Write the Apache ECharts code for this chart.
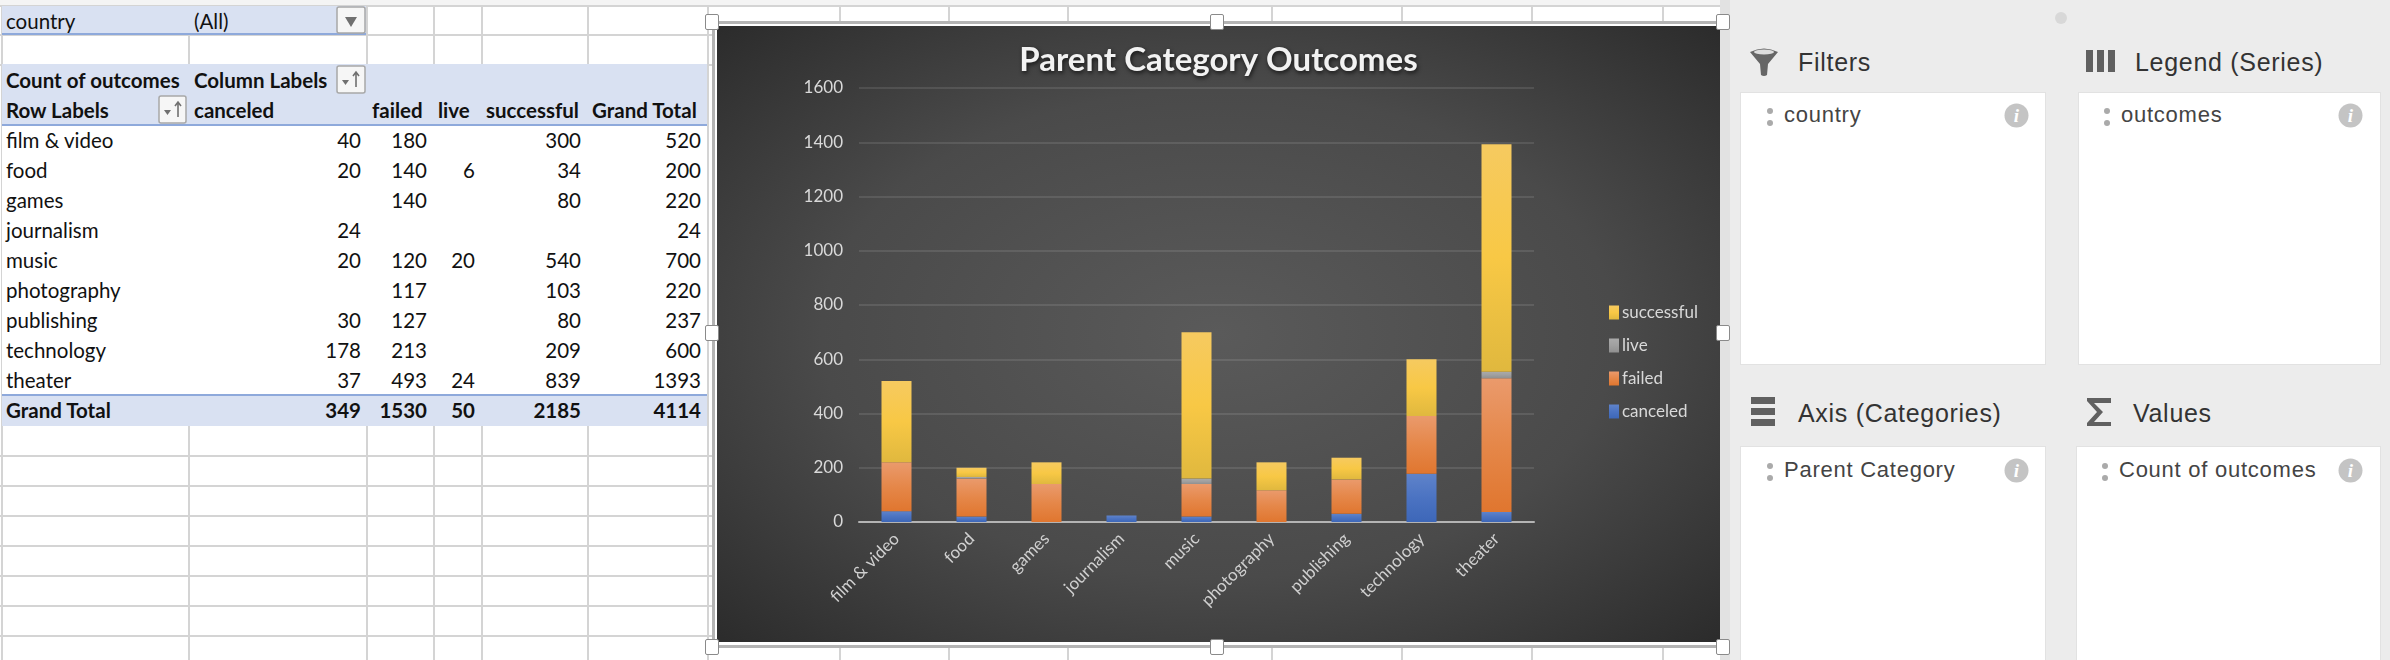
<!DOCTYPE html>
<html>
<head>
<meta charset="utf-8">
<title>Parent Category Outcomes</title>
<script src="https://cdn.jsdelivr.net/npm/echarts@6/dist/echarts.min.js"></script>
<style>
html, body { margin: 0; padding: 0; background: #fff; overflow: hidden; }
#sheet { position: absolute; left: 0; top: 0; width: 2390px; height: 660px; overflow: hidden; }
#sheet div, #sheet svg { position: absolute; }
.t { font-family: Lato, "Noto Sans", sans-serif; font-size: 20.5px; color: #111; white-space: nowrap; transform: translateY(calc(-50% - 1px)); }
.b { font-weight: 700; }
.r { transform: translate(-100%, calc(-50% - 1px)); }
.p { font-family: "Liberation Sans", sans-serif; color: #333; }
#main { position: absolute; left: 717px; top: 26px; width: 1003px; height: 616px;
  background: radial-gradient(ellipse 72% 72% at 50% 50%, #5a5a5a 0%, #4a4a4a 55%, #2a2a2a 100%); }
</style>
</head>
<body>
<div id="sheet"></div>
<div id="main"></div>
<script type="text/javascript">
var categories = ['film & video', 'food', 'games', 'journalism', 'music', 'photography', 'publishing', 'technology', 'theater'];
var canceled = [40, 20, null, 24, 20, null, 30, 178, 37];
var failed = [180, 140, 140, null, 120, 117, 127, 213, 493];
var live = [null, 6, null, null, 20, null, null, null, 24];
var successful = [300, 34, 80, null, 540, 103, 80, 209, 839];
var grandTotals = [520, 200, 220, 24, 700, 220, 237, 600, 1393];
var columnTotals = [349, 1530, 50, 2185, 4114];
var columnHeads = ['canceled', 'failed', 'live', 'successful', 'Grand Total'];
var yTicks = [0, 200, 400, 600, 800, 1000, 1200, 1400, 1600];

var sheet = document.getElementById('sheet');

function box(x, y, w, h, color, extra) {
    var d = document.createElement('div');
    d.style.cssText = 'left:' + x + 'px;top:' + y + 'px;width:' + w + 'px;height:' + h + 'px;background:' + color + ';' + (extra || '');
    sheet.appendChild(d);
    return d;
}
function text(x, y, s, cls, extra) {
    var d = document.createElement('div');
    d.className = 't ' + (cls || '');
    d.style.cssText = 'left:' + x + 'px;top:' + y + 'px;' + (extra || '');
    d.textContent = s;
    sheet.appendChild(d);
}
function svg(x, y, w, h, inner) {
    var d = document.createElement('div');
    d.style.cssText = 'left:' + x + 'px;top:' + y + 'px;width:' + w + 'px;height:' + h + 'px;';
    d.innerHTML = '<svg width="' + w + '" height="' + h + '" style="left:0;top:0">' + inner + '</svg>';
    sheet.appendChild(d);
}

// spreadsheet grid behind everything
var gridX = [1, 188, 366, 433, 481, 587, 707, 839, 948, 1067, 1271, 1401, 1531, 1662];
var gridY = [5, 34, 64, 455, 485, 515, 545, 575, 605, 635];
gridX.forEach(function (x) { box(x, 0, 2, 660, '#d4d4d4'); });
gridY.forEach(function (y) { box(0, y, 1730, 2, '#d4d4d4'); });
box(0, 0, 1730, 5, '#f4f4f4');

// pivot table
box(2, 6, 364, 28, '#d9e1f2');
box(2, 33, 364, 2, '#8ea9db');
box(2, 64, 705, 61, '#d9e1f2');
box(2, 124, 705, 2, '#8ea9db');
box(2, 126, 705, 269, '#fff');
box(2, 395, 705, 31, '#d9e1f2');
box(2, 394, 705, 2, '#8ea9db');

text(6, 22, 'country');
text(194, 22, '(All)');
text(6, 81, 'Count of outcomes', 'b');
text(194, 81, 'Column Labels', 'b');
text(6, 111, 'Row Labels', 'b');

var headX = [194, 372, 438, 486, 592];
var rightX = [361, 427, 475, 581, 701];
columnHeads.forEach(function (h, i) { text(headX[i], 111, h, 'b'); });

categories.forEach(function (c, i) {
    var y = 141 + i * 30;
    text(6, y, c);
    [canceled[i], failed[i], live[i], successful[i], grandTotals[i]].forEach(function (v, j) {
        if (v !== null) text(rightX[j], y, v, 'r');
    });
});
text(6, 411, 'Grand Total', 'b');
columnTotals.forEach(function (v, j) { text(rightX[j], 411, v, 'b r'); });

// filter buttons
function button(x, y, w, h, inner) {
    svg(x, y, w, h, '<rect x="1" y="1" width="' + (w - 2) + '" height="' + (h - 2) + '" rx="2" fill="#f6f6f6" stroke="#a8a8a8" stroke-width="1.5"/>' + inner);
}
button(336, 6, 30, 28, '<path d="M9 11 L21 11 L15 21 Z" fill="#707070"/>');
var sortIcon = '<path d="M6 15 L13 15 L9.5 20 Z" fill="#707070"/><path d="M20 22 L20 8 M17 11 L20 7 L23 11" stroke="#707070" stroke-width="1.6" fill="none"/>';
button(336, 65, 30, 29, sortIcon);
button(158, 95, 29, 29, sortIcon);

// selection frame round the chart
box(712, 21, 1011, 627, '#fff', 'box-sizing:border-box;border:3px solid #b4b4b4;');
box(1720, 0, 10, 660, '#e2e2e2');
[[712, 22], [1217, 22], [1723, 22], [712, 333], [1723, 333], [712, 647], [1217, 647], [1723, 647]].forEach(function (p) {
    box(p[0] - 7, p[1] - 8, 14, 16, '#fff', 'box-sizing:border-box;border:1px solid #8a8a8a;border-radius:2px;z-index:5;');
});

// pivot fields pane
box(1730, 0, 660, 660, '#ececec');
box(2055, 12, 12, 12, '#d8d8d8', 'border-radius:50%;');
var paneBoxes = [[1741, 93, 304, 271], [2079, 93, 301, 271], [1741, 447, 304, 213], [2077, 447, 303, 213]];
paneBoxes.forEach(function (b) { box(b[0], b[1], b[2], b[3], '#fff', 'outline:1px solid #e2e2e2;'); });

var paneTitles = ['Filters', 'Legend (Series)', 'Axis (Categories)', 'Values'];
var paneFields = ['country', 'outcomes', 'Parent Category', 'Count of outcomes'];
var titleX = [1798, 2135, 1798, 2133];
var titleY = [63, 63, 414, 414];
var fieldX = [1784, 2121, 1784, 2119];
var fieldY = [116, 116, 471, 471];
var infoX = [2004, 2338, 2004, 2338];
paneTitles.forEach(function (s, i) {
    text(titleX[i], titleY[i], s, 'p', 'font-size:25px;letter-spacing:0.7px;color:#333;');
    text(fieldX[i], fieldY[i], paneFields[i], 'p', 'font-size:22px;letter-spacing:0.75px;color:#444;');
    box(fieldX[i] - 17, fieldY[i] - 8, 6, 6, '#aaa', 'border-radius:50%;');
    box(fieldX[i] - 17, fieldY[i] + 4, 6, 6, '#aaa', 'border-radius:50%;');
    svg(infoX[i], fieldY[i] - 13, 25, 25, '<circle cx="12.5" cy="12.5" r="12" fill="#c4c4c4"/><text x="12.5" y="19" text-anchor="middle" font-family="Liberation Serif" font-style="italic" font-weight="700" font-size="19" fill="#fff">i</text>');
});
svg(1749, 46, 30, 32, '<path d="M1 6 Q15 -1 29 6 L19 18 L18 29 Q15 31 12 29 L11 18 Z" fill="#666"/><ellipse cx="15" cy="6" rx="10" ry="2.5" fill="#ddd"/>');
svg(2086, 50, 29, 22, '<rect x="0" y="0" width="7" height="22" fill="#606060"/><rect x="11" y="0" width="7" height="22" fill="#606060"/><rect x="22" y="0" width="7" height="22" fill="#606060"/>');
svg(1751, 397, 24, 29, '<rect x="0" y="0" width="24" height="7" fill="#606060"/><rect x="0" y="11" width="24" height="7" fill="#606060"/><rect x="0" y="22" width="24" height="7" fill="#606060"/>');
svg(2086, 397, 26, 30, '<path d="M1 1 L25 1 L25 6 L8 6 L17 15 L8 25 L25 25 L25 29 L1 29 L1 26 L11 15 L1 4 Z" fill="#606060"/>');

// the chart
function grad(top, mid, bottom) {
    return new echarts.graphic.LinearGradient(0, 0, 0, 1, [
        { offset: 0, color: top },
        { offset: 0.5, color: mid },
        { offset: 1, color: bottom }
    ]);
}
function seriesOf(name, values, fill) {
    return {
        name: name,
        type: 'bar',
        stack: 'outcomes',
        barWidth: '40%',
        data: values,
        itemStyle: { color: fill }
    };
}

var myChart = echarts.init(document.getElementById('main'));
var option = {
    backgroundColor: 'transparent',
    animation: false,
    title: {
        text: 'Parent Category Outcomes',
        left: 'center',
        top: 13,
        textStyle: {
            fontFamily: 'Lato',
            fontSize: 33,
            fontWeight: 700,
            color: '#f2f2f2',
            textShadowColor: 'rgba(0,0,0,0.7)',
            textShadowBlur: 4,
            textShadowOffsetX: 1,
            textShadowOffsetY: 2
        }
    },
    legend: {
        orient: 'vertical',
        left: 887,
        top: 273,
        itemWidth: 10,
        itemHeight: 14,
        itemGap: 16,
        icon: 'rect',
        data: ['successful', 'live', 'failed', 'canceled'],
        textStyle: { color: '#d9d9d9', fontFamily: 'Lato', fontSize: 17, padding: [0, 0, 0, -2] }
    },
    grid: { left: 142, right: 186, top: 62, bottom: 120 },
    xAxis: {
        type: 'category',
        data: categories,
        axisTick: { show: false },
        axisLine: { lineStyle: { color: '#b4b4b4', width: 2 } },
        axisLabel: {
            interval: 0,
            rotate: 45,
            margin: 14,
            color: '#d0d0d0',
            fontFamily: 'Lato',
            fontSize: 17
        }
    },
    yAxis: {
        type: 'value',
        min: yTicks[0],
        max: yTicks[yTicks.length - 1],
        interval: 200,
        axisLine: { show: false },
        axisTick: { show: false },
        splitLine: { lineStyle: { color: 'rgba(255,255,255,0.1)', width: 2 } },
        axisLabel: {
            margin: 16,
            color: '#d9d9d9',
            fontFamily: 'Lato',
            fontSize: 17,
            formatter: function (v) { return String(v); }
        }
    },
    series: [
        seriesOf('canceled', canceled, grad('#5f83ca', '#4b73c2', '#3d67b8')),
        seriesOf('failed', failed, grad('#ea9a6c', '#e58749', '#e0762f')),
        seriesOf('live', live, grad('#aaaaaa', '#a0a0a0', '#909090')),
        seriesOf('successful', successful, grad('#f6ca60', '#f8c845', '#e0b83e'))
    ]
};
myChart.setOption(option);
</script>
</body>
</html>
